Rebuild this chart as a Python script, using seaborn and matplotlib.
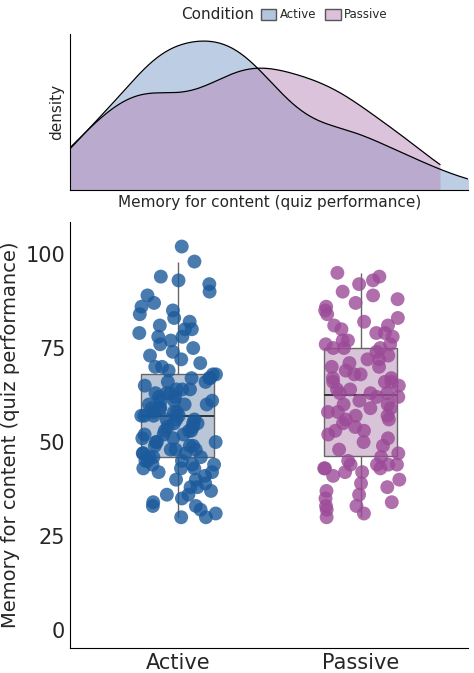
import numpy as np
import pandas as pd
import seaborn as sns
import matplotlib.pyplot as plt
from matplotlib.patches import Patch
from matplotlib.offsetbox import HPacker

active = [102, 98, 94, 93, 92, 90, 89, 87, 86, 85, 84, 83, 82, 81, 80, 80, 79, 78, 78, 77,
          76, 75, 74, 73, 72, 71, 70, 70, 69, 68, 68, 67, 67, 66, 66, 65, 64, 64, 63, 63,
          63, 62, 62, 61, 61, 60, 60, 59, 59, 58, 58, 57, 57, 57, 56, 56, 56, 55, 55, 54,
          54, 53, 53, 52, 52, 51, 51, 50, 50, 50, 49, 49, 48, 48, 47, 47, 47, 46, 46, 45,
          45, 45, 44, 44, 44, 43, 43, 42, 42, 41, 40, 40, 39, 38, 38, 37, 36, 36, 35, 34,
          33, 33, 32, 31, 30, 30, 52, 58, 61, 46, 64, 55, 49, 59, 43, 67, 53, 60, 48, 57]
passive = [95, 94, 93, 92, 90, 89, 88, 87, 86, 85, 84, 83, 82, 81, 81, 80, 79, 78, 77, 76,
           76, 75, 75, 75, 74, 73, 72, 71, 70, 70, 69, 68, 67, 67, 66, 66, 65, 64, 64, 63,
           63, 62, 62, 61, 60, 60, 59, 58, 58, 57, 56, 56, 55, 54, 53, 52, 51, 50, 49,
           48, 47, 46, 45, 44, 44, 44, 43, 43, 43, 42, 42, 41, 40, 39, 38, 37, 36,
           35, 34, 33, 33, 32, 31, 30, 53, 57, 68, 72, 63, 44, 59, 66, 77, 79]
conditions = ["Active", "Passive"]
colors = {"Active": "#1b5a9b", "Passive": "#9b4a97"}
box_colors = {"Active": "#b3c6dd", "Passive": "#dcc0dc"}
dens_colors = {"Active": "#7d9fca", "Passive": "#b88ab9"}

df = pd.DataFrame({"Condition": ["Active"] * len(active) + ["Passive"] * len(passive),
                   "score": active + passive})

sns.set_style("white")
fig = plt.figure(figsize=(4.74, 6.73), dpi=100)
ax1 = fig.add_axes([0.148, 0.718, 0.84, 0.232])
ax2 = fig.add_axes([0.148, 0.037, 0.84, 0.633])

for c in conditions:
    sns.kdeplot(data=df[df.Condition == c], x="score", ax=ax1, fill=True, cut=0.3,
                color=dens_colors[c], alpha=0.5, linewidth=0, bw_adjust=0.9)
    sns.kdeplot(data=df[df.Condition == c], x="score", ax=ax1, fill=False, cut=0.3,
                color="black", linewidth=0.9, bw_adjust=0.9)
ax1.set_xlim(30, 102)
ax1.set_ylim(0, None)
ax1.set_xticks([]); ax1.set_yticks([])
ax1.set_xlabel("Memory for content (quiz performance)", fontsize=11)
ax1.set_ylabel("density", fontsize=11)
for s in ["top", "right"]:
    ax1.spines[s].set_visible(False)
for s in ["left", "bottom"]:
    ax1.spines[s].set_color("black")
handles = [Patch(facecolor=box_colors[c], edgecolor="#555555", label=c) for c in conditions]
leg = fig.legend(handles=handles, title="Condition", ncol=2, loc="upper center",
                 bbox_to_anchor=(0.6, 1.005), frameon=False, fontsize=8.5, title_fontsize=11,
                 handlelength=1.3, handleheight=1.1, columnspacing=0.8, handletextpad=0.3)
box = leg._legend_box
box._children = [HPacker(children=box._children, align="center", pad=0, sep=5)]

sns.boxplot(data=df, x="Condition", y="score", order=conditions, ax=ax2, width=0.4,
            hue="Condition", palette=box_colors, showfliers=False, legend=False, showcaps=False,
            linecolor="#666666", linewidth=1.0,
            medianprops={"color": "#333333", "linewidth": 1.4})
np.random.seed(3)
sns.stripplot(data=df, x="Condition", y="score", order=conditions, ax=ax2, jitter=0.22,
              hue="Condition", palette=colors, size=10, alpha=0.8, legend=False)
ax2.set_xlim(-0.587, 1.587)
ax2.set_ylim(-4.8, 108.5)
ax2.set_yticks([0, 25, 50, 75, 100])
ax2.tick_params(axis="y", labelsize=15, length=0)
ax2.tick_params(axis="x", labelsize=15, length=0)
ax2.set_xlabel("")
ax2.set_ylabel("Memory for content (quiz performance)", fontsize=14)
for s in ["top", "right"]:
    ax2.spines[s].set_visible(False)
for s in ["left", "bottom"]:
    ax2.spines[s].set_color("black")

fig.savefig("out.png", dpi=100)
